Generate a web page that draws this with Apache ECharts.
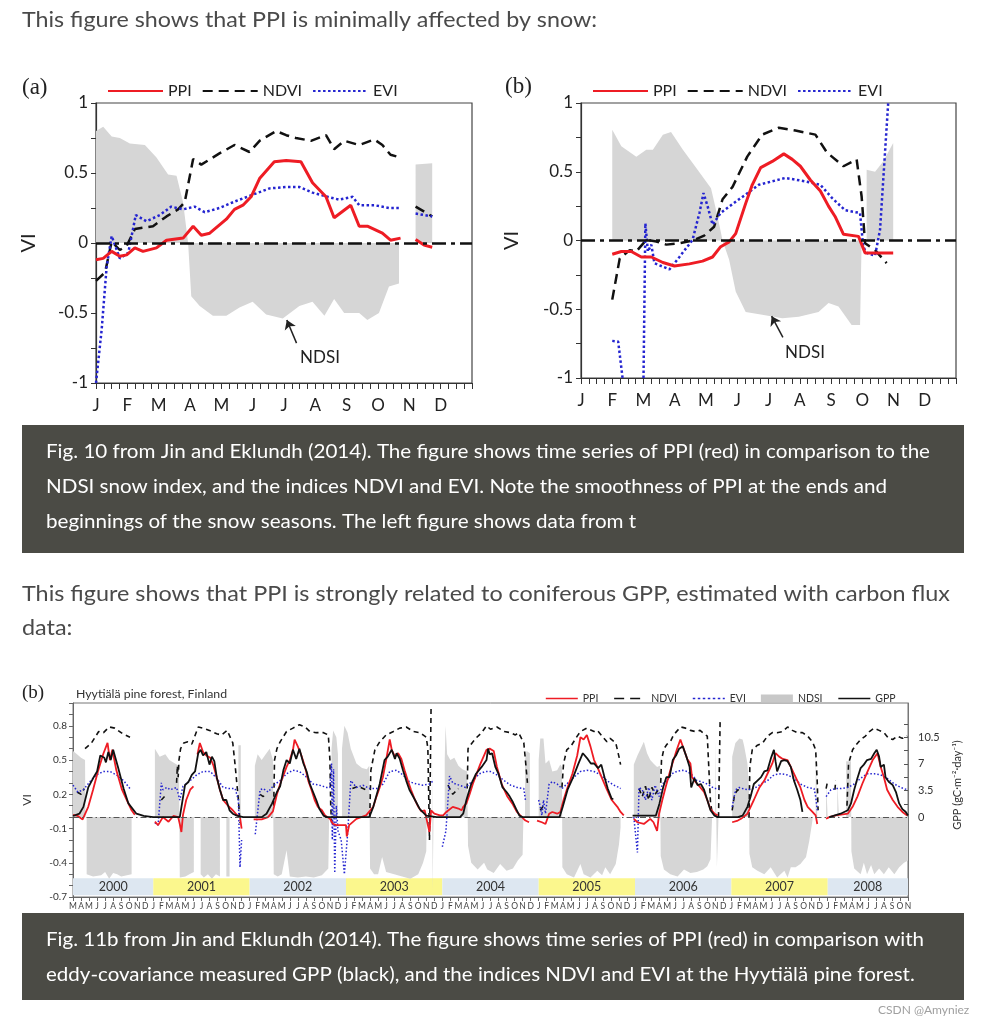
<!DOCTYPE html>
<html><head><meta charset="utf-8">
<script src="https://cdn.jsdelivr.net/npm/echarts@6/dist/echarts.min.js"></script>
<style>html,body{margin:0;padding:0;background:#fff;}#c{width:987px;height:1026px;}</style>
</head><body><div id="c"></div>
<script>
// ---------- texts ----------
const introA = 'This figure shows that PPI is minimally affected by snow:';
const captionA = [
  'Fig. 10 from Jin and Eklundh (2014). The figure shows time series of PPI (red) in comparison to the',
  'NDSI snow index, and the indices NDVI and EVI. Note the smoothness of PPI at the ends and',
  'beginnings of the snow seasons. The left figure shows data from t'];
const introB = ['This figure shows that PPI is strongly related to coniferous GPP, estimated with carbon flux', 'data:'];
const captionB = [
  'Fig. 11b from Jin and Eklundh (2014). The figure shows time series of PPI (red) in comparison with',
  'eddy-covariance measured GPP (black), and the indices NDVI and EVI at the Hyytiälä pine forest.'];
const watermark = 'CSDN @Amyniez';
const monthLetters = ['J','F','M','A','M','J','J','A','S','O','N','D'];

// ---------- panel (a): x = months since 1 Jan ----------
const aPPI = [[0,-0.12],[0.23,-0.11],[0.5,-0.06],[0.76,-0.095],[0.98,-0.085],[1.24,-0.035],[1.5,-0.06],[1.93,-0.035],[2.25,0.02],[2.78,0.035],[3.1,0.12],[3.36,0.055],[3.63,0.07],[4.16,0.17],[4.42,0.24],[4.69,0.27],[4.95,0.33],[5.22,0.46],[5.69,0.58],[6.07,0.59],[6.54,0.58],[6.91,0.43],[7.34,0.33],[7.6,0.18],[8.13,0.27],[8.4,0.12],[8.66,0.12],[9.14,0.07],[9.4,0.02],[9.72,0.035],[9.95,'-'],[10.2,0.025],[10.47,-0.015],[10.73,-0.03]];
const aNDVI = [[0,-0.27],[0.29,-0.21],[0.5,0.01],[0.76,-0.05],[0.98,-0.02],[1.24,0.1],[1.82,0.12],[2.25,0.19],[2.62,0.24],[2.83,0.29],[3.1,0.6],[3.36,0.56],[3.94,0.64],[4.42,0.7],[4.9,0.65],[5.22,0.73],[5.75,0.8],[6.07,0.77],[6.38,0.75],[6.86,0.73],[7.34,0.77],[7.6,0.67],[7.92,0.73],[8.4,0.7],[8.88,0.74],[9.14,0.7],[9.4,0.63],[9.72,0.61],[9.95,'-'],[10.2,0.26],[10.73,0.19]];
const aEVI = [[0,-1],[0.18,-0.62],[0.34,-0.17],[0.5,0.05],[0.76,-0.11],[1.03,-0.07],[1.27,0.2],[1.61,0.155],[2.04,0.2],[2.4,0.26],[2.78,0.24],[3.15,0.26],[3.47,0.22],[3.94,0.25],[4.47,0.3],[5.0,0.345],[5.54,0.39],[6.07,0.4],[6.49,0.4],[6.91,0.36],[7.39,0.33],[7.76,0.31],[8.19,0.33],[8.4,0.27],[8.88,0.27],[9.35,0.25],[9.67,0.25],[9.95,'-'],[10.2,0.21],[10.73,0.19]];
const aNDSI = [[0,0.8],[0.23,0.83],[0.5,0.76],[0.76,0.75],[1.08,0.71],[1.56,0.7],[1.93,0.61],[2.3,0.49],[2.57,0.48],[2.78,0.29],[2.94,0],[3.04,-0.38],[3.31,-0.45],[3.73,-0.52],[4.16,-0.52],[4.58,-0.46],[5.0,-0.42],[5.43,-0.51],[5.96,-0.54],[6.49,-0.45],[6.91,-0.42],[7.29,-0.52],[7.6,-0.4],[7.92,-0.5],[8.4,-0.5],[8.66,-0.55],[9.03,-0.5],[9.35,-0.31],[9.67,-0.29],[9.72,'-'],[10.2,0.56],[10.73,0.57]];
const aArrow = [[6.09,-0.55],[6.4,-0.715]];
const aLabel = [7.15,-0.82];

// ---------- panel (b) ----------
const bPPI = [[1.0,-0.1],[1.29,-0.08],[1.61,-0.08],[1.93,-0.12],[2.25,-0.12],[2.62,-0.16],[2.99,-0.185],[3.47,-0.17],[3.89,-0.15],[4.21,-0.12],[4.47,-0.045],[4.74,-0.01],[4.95,0.05],[5.27,0.27],[5.48,0.405],[5.75,0.53],[6.12,0.575],[6.49,0.63],[6.76,0.59],[7.02,0.54],[7.34,0.44],[7.66,0.36],[7.92,0.25],[8.13,0.175],[8.4,0.045],[8.88,0.03],[9.09,-0.09],[9.35,-0.09],[9.62,-0.09],[9.99,-0.09]];
const bNDVI = [[1.0,-0.43],[1.24,-0.13],[1.56,-0.07],[1.77,-0.08],[2.09,0.005],[2.41,-0.007],[2.73,-0.03],[3.15,-0.02],[3.57,0],[3.94,0.035],[4.26,0.1],[4.53,0.3],[4.85,0.39],[5.32,0.61],[5.8,0.77],[6.33,0.82],[6.86,0.8],[7.5,0.77],[7.87,0.64],[8.4,0.54],[8.82,0.59],[8.98,0.32],[9.09,-0.02],[9.41,-0.07],[9.78,-0.165]];
const bEVI = [[1.0,-0.73],[1.19,-0.735],[1.33,-1.0],[1.6,'-'],[2.0,-1.0],[2.06,0.125],[2.14,-0.08],[2.25,-0.03],[2.35,-0.165],[2.83,-0.21],[3.15,-0.12],[3.57,0.005],[3.79,0.2],[3.92,0.345],[4.05,0.25],[4.21,0.115],[4.47,0.2],[5.06,0.3],[5.69,0.405],[6.54,0.455],[7.18,0.43],[7.66,0.405],[8.03,0.31],[8.45,0.22],[8.93,0.2],[9.03,-0.045],[9.14,-0.09],[9.41,-0.11],[9.57,0.08],[9.72,0.61],[9.83,1.0]];
const bNDSI = [[1.0,0.805],[1.29,0.685],[1.77,0.61],[2.09,0.66],[2.3,0.66],[2.62,0.77],[2.88,0.79],[3.26,0.66],[3.73,0.515],[4.16,0.38],[4.37,0.175],[4.53,0],[4.74,-0.14],[4.95,-0.37],[5.27,-0.52],[5.8,-0.54],[6.44,-0.565],[6.97,-0.555],[7.6,-0.52],[7.92,-0.455],[8.24,-0.48],[8.66,-0.615],[8.93,-0.615],[8.98,0],[9.05,'-'],[9.14,0.515],[9.41,0.5],[9.67,0.575],[9.99,0.71]];
const bArrow = [[6.1,-0.55],[6.46,-0.705]];
const bLabel = [7.17,-0.815];

// ---------- Hyytiälä (x = months since Jan 2000) ----------
const years = [2000,2001,2002,2003,2004,2005,2006,2007,2008];
const hPPI = [[2.0,0.02],[2.6,0.01],[3.2,-0.02],[3.9,0.09],[4.5,0.24],[5.1,0.4],[5.8,0.56],[6.3,0.65],[6.6,0.5],[6.9,0.59],[7.4,0.41],[8.1,0.24],[8.7,0.15],[9.3,0.06],[9.7,0.02],[10,'-'],
[12.2,-0.04],[12.6,-0.07],[13.2,0.0],[13.9,-0.04],[14.5,0.01],[15.1,0.0],[15.3,-0.06],[15.5,-0.13],[15.7,0.02],[16.1,0.15],[16.6,0.24],[17.0,0.27],[17.2,'-'],[17.5,0.55],[17.8,0.65],[18.2,0.57],[18.6,0.54],[19.1,0.52],[19.5,0.45],[19.9,0.35],[20.3,0.24],[20.7,0.15],[21.3,0.1],[21.9,0.06],[22.4,0.02],[22.8,0.0],[23.0,-0.1],[23.5,'-'],
[24.5,-0.02],[25.5,-0.02],[26.3,0.0],[26.9,0.05],[27.4,0.2],[27.8,0.29],[28.6,0.44],[29.0,0.5],[29.4,0.59],[29.6,0.68],[30.0,0.62],[30.45,0.54],[30.9,0.44],[31.3,0.32],[31.7,0.24],[32.1,0.15],[32.5,0.09],[33.0,0.06],[33.4,0.015],[34.0,-0.015],[34.4,-0.06],[34.8,-0.07],[35.5,-0.07],[36.0,-0.07],[36.1,-0.17],[36.4,-0.07],[37.3,-0.015],[38.5,0.015],
[39.4,0.09],[39.8,0.18],[40.2,0.26],[40.6,0.35],[41.0,0.5],[41.45,0.68],[41.7,0.59],[42.1,0.53],[42.5,0.56],[42.9,0.51],[43.3,0.41],[43.7,0.32],[44.1,0.24],[44.6,0.15],[45.0,0.09],[45.4,0.05],[45.8,0.06],[46.2,-0.07],[46.4,-0.13],[46.6,0.06],[47.0,0.03],
[47.7,0.015],[48.1,0.015],[48.5,0.045],[48.7,0.06],[49.3,0.09],[50.0,0.075],[50.4,0.06],[50.6,0.09],[51.0,0.12],[51.4,0.2],[51.8,0.29],[52.7,0.46],[53.5,0.59],[53.9,0.6],[54.4,0.58],[54.8,0.44],[55.4,0.29],[56.1,0.18],[56.7,0.12],[57.3,0.045],[57.9,0.0],[58.35,-0.03],[58.8,-0.045],[59.3,'-'],
[59.8,-0.03],[60.4,-0.045],[60.85,-0.06],[61.3,0.03],[61.7,0.045],[62.3,0.03],[62.7,0.045],[63.1,0.15],[63.5,0.24],[64.2,0.38],[64.8,0.54],[65.2,0.7],[65.6,0.68],[66.0,0.72],[66.45,0.62],[66.9,0.5],[67.3,0.44],[67.9,0.34],[68.5,0.24],[69.1,0.15],[69.8,0.09],[70.2,0.045],[70.6,0.015],[71.2,'-'],
[71.85,-0.015],[72.3,-0.045],[73.1,-0.06],[73.9,-0.015],[74.3,-0.045],[74.75,-0.12],[75.0,0.03],[75.4,0.15],[75.8,0.26],[76.4,0.41],[76.8,0.5],[77.2,0.59],[77.65,0.68],[78.1,0.59],[78.5,0.51],[78.9,0.47],[79.1,0.35],[79.5,0.31],[79.9,0.28],[80.6,0.22],[81.0,0.15],[81.4,0.07],[81.9,0.03],[82.3,0.015],[83.0,'-'],
[84.1,-0.045],[84.8,-0.03],[85.2,-0.015],[86.0,0.03],[86.4,0.09],[86.8,0.15],[87.5,0.26],[88.1,0.32],[88.5,0.38],[89.1,0.47],[89.5,0.56],[89.95,0.53],[90.4,0.51],[91.0,0.5],[91.4,0.44],[92.0,0.35],[92.6,0.26],[93.1,0.15],[93.5,0.09],[94.1,0.045],[94.5,0.015],[94.7,-0.06],[95.2,'-'],
[95.8,-0.015],[96.2,0.0],[97.0,0.015],[98.5,0.03],[99.1,0.09],[99.7,0.18],[100.3,0.29],[100.9,0.39],[101.6,0.5],[102.2,0.56],[102.6,0.44],[103.0,0.35],[103.4,0.24],[104.1,0.15],[104.7,0.09],[105.3,0.045],[105.9,0.015]];
const hGPP = [[2.0,0.15],[2.8,0.45],[3.3,1.35],[3.9,3.9],[4.5,5.1],[5.0,6.0],[5.4,8.1],[5.9,7.8],[6.1,7.2],[6.4,8.55],[6.7,7.5],[7.0,8.85],[7.6,6.6],[8.3,3.75],[8.9,1.8],[9.9,0.45],[10.8,0.15],[12.0,0.0],[15.3,0.0],[15.95,4.2],[16.4,4.65],[16.8,5.55],[17.2,6.0],[17.6,8.4],[17.9,8.85],[18.2,8.1],[18.6,8.55],[19.0,6.9],[19.3,7.95],[19.6,7.35],[19.9,5.25],[20.3,3.6],[20.7,2.25],[21.1,2.25],[21.5,0.9],[21.9,0.45],[22.4,0.2],[23.2,0.0],[25.5,0.0],[26.1,0.45],[26.8,1.8],[27.4,3.3],[27.8,4.05],[28.2,6.15],[28.6,7.5],[29.0,7.05],[29.4,8.85],[29.8,7.65],[30.2,9.0],[30.7,7.05],[31.1,6.0],[31.5,4.35],[31.9,3.3],[32.3,2.25],[32.7,1.05],[33.2,0.2],[33.6,0.0],[38.9,0.0],[39.4,1.35],[40.2,4.35],[40.8,7.5],[41.2,7.95],[41.7,8.85],[42.1,7.65],[42.3,8.4],[42.7,7.65],[43.1,6.15],[43.5,4.8],[43.9,3.6],[44.6,2.25],[45.2,1.05],[46.0,0.2],[47.3,0.0],[50.2,0.0],[50.6,0.45],[51.0,2.25],[51.6,4.35],[52.2,5.7],[52.9,6.6],[53.5,7.5],[53.7,9.0],[53.9,8.25],[54.2,8.4],[54.6,6.6],[55.0,5.7],[55.5,3.9],[56.0,3.3],[56.4,2.7],[56.8,1.95],[57.2,1.05],[57.6,0.2],[58.0,0.0],[62.6,0.0],[63.0,1.35],[63.6,3.6],[64.3,5.25],[64.9,6.9],[65.5,8.4],[66.1,7.65],[66.5,7.05],[66.9,7.05],[67.4,6.45],[67.8,6.9],[68.2,5.25],[68.6,3.75],[69.1,2.4],[69.3,2.4],[70.5,'-'],[71.7,0.2],[74.6,0.2],[75.05,1.8],[75.5,3.9],[75.9,5.25],[76.3,5.25],[76.7,7.5],[77.1,8.1],[77.5,9.0],[77.95,9.3],[78.4,7.95],[78.8,6.6],[79.0,3.9],[79.4,5.1],[79.8,4.2],[80.2,4.35],[80.6,3.6],[81.0,2.25],[81.4,0.9],[81.9,0.2],[82.3,0.0],[84.8,0.0],[85.4,0.2],[86.0,1.35],[86.4,2.7],[86.8,4.35],[87.25,4.8],[87.7,5.25],[88.1,6.0],[88.5,6.15],[88.9,7.65],[89.3,8.85],[89.5,7.35],[89.7,6.0],[90.2,7.35],[90.6,7.5],[91.0,7.35],[91.4,6.6],[91.8,4.8],[92.2,3.6],[92.6,2.25],[92.85,0.7],[94,'-'],[96.2,0.0],[96.8,0.2],[97.6,0.45],[98.5,0.9],[98.9,1.8],[99.3,3.6],[99.7,5.1],[100.1,6.45],[100.5,6.9],[100.9,7.5],[101.4,7.65],[101.8,8.4],[102.1,8.85],[102.4,7.95],[102.6,6.6],[103.0,6.9],[103.2,5.25],[103.6,4.65],[104.1,4.2],[104.5,3.3],[104.9,1.8],[105.3,1.05],[105.7,0.7],[106.0,0.2]];
const hNDVI = [[2.5,0.22],[3.0,0.2],[3.4,0.25],[3.45,'-'],[3.5,0.6],[4.3,0.65],[5.2,0.75],[5.8,0.74],[6.5,0.79],[7.2,0.78],[8.2,0.73],[9.1,0.7],[9.5,'-'],
[13.0,0.15],[13.4,0.18],[13.8,'-'],[14.9,0.3],[15.0,0.45],[15.1,0.35],[15.2,0.5],[15.4,0.6],[15.8,0.65],[16.3,0.66],[16.8,0.64],[17.6,0.79],[18.2,0.78],[19.0,0.76],[19.9,0.73],[20.5,0.72],[21.2,0.76],[21.9,0.65],[22.2,0.45],[22.6,0.15],[22.8,-0.05],[23.2,'-'],
[25.3,0.2],[25.7,0.18],[26.0,0.22],[26.5,'-'],[27.0,0.1],[27.1,0.5],[27.4,0.6],[27.8,0.66],[28.6,0.75],[29.4,0.78],[30.2,0.81],[30.9,0.79],[31.5,0.75],[32.3,0.74],[33.2,0.74],[33.8,0.72],[34.0,0.5],[34.1,0.1],[34.2,-0.05],[34.5,'-'],
[36.8,0.25],[37.5,0.27],[38.5,0.24],[38.7,'-'],[38.96,0.0],[39.1,0.41],[39.6,0.59],[40.2,0.66],[41.0,0.72],[41.9,0.75],[42.7,0.78],[43.5,0.79],[44.4,0.75],[45.2,0.74],[45.6,0.72],[46.0,0.7],[46.2,0.6],[46.4,-0.2],[46.6,0.98],[46.7,'-'],
[48.7,0.28],[49.3,0.2],[50.0,0.25],[50.5,'-'],[51.1,0.25],[51.2,0.6],[51.7,0.65],[52.3,0.7],[52.9,0.74],[53.5,0.8],[54.0,0.77],[54.8,0.79],[55.7,0.75],[56.5,0.74],[57.1,0.72],[57.5,0.74],[58.15,0.65],[58.35,0.5],[58.6,0.3],[58.9,'-'],
[60.2,0.06],[60.6,0.1],[61,'-'],[62.9,0.26],[63.1,0.47],[63.5,0.59],[64.0,0.62],[64.8,0.71],[65.2,0.75],[66.0,0.78],[66.9,0.75],[67.3,0.76],[67.9,0.71],[68.5,0.66],[68.9,0.69],[69.6,0.65],[70.0,0.53],[70.2,0.46],[70.5,'-'],
[72.5,0.25],[72.9,0.18],[73.3,0.27],[73.7,0.15],[74.1,0.26],[74.5,0.2],[74.9,0.24],[75.0,'-'],[75.2,0.3],[75.3,0.5],[75.6,0.6],[76.0,0.64],[76.4,0.66],[76.8,0.72],[77.3,0.76],[77.7,0.79],[78.3,0.78],[78.9,0.76],[79.5,0.75],[80.1,0.76],[80.6,0.73],[81.0,0.71],[81.2,0.42],[81.4,0.13],[81.6,0.04],[82.0,'-'],[82.4,0.0],[82.6,0.84],[82.8,'-'],
[84.1,0.06],[84.4,0.2],[84.8,0.24],[85.2,0.22],[85.6,'-'],[86.2,0.0],[86.3,0.44],[86.6,0.59],[87.25,0.63],[87.9,0.65],[88.5,0.71],[89.1,0.74],[89.7,0.74],[90.4,0.75],[91.0,0.79],[91.6,0.76],[92.2,0.74],[92.85,0.74],[93.5,0.71],[94.1,0.66],[94.5,0.59],[94.7,0.3],[94.8,0.06],[95.0,'-'],
[95.8,0.25],[96.0,0.32],[96.4,'-'],[96.9,0.24],[97.0,0.32],[97.5,'-'],[98.4,0.1],[98.6,0.47],[99.1,0.59],[99.5,0.63],[100.1,0.68],[100.7,0.71],[101.2,0.75],[101.8,0.78],[102.4,0.76],[103.0,0.74],[103.6,0.69],[104.1,0.68],[104.7,0.71],[105.3,0.69],[105.9,0.71]];
const hEVI = [[2.0,0.28],[2.6,0.22],[3.3,0.24],[4.1,0.31],[4.9,0.37],[5.8,0.4],[6.6,0.4],[7.4,0.37],[8.3,0.32],[9.1,0.25],[9.5,'-'],
[12.2,-0.05],[12.6,-0.07],[13.0,0.3],[13.2,0.24],[13.7,0.26],[14.1,0.24],[14.5,0.25],[14.9,0.26],[15.3,0.15],[15.7,0.27],[16.6,0.32],[17.4,0.37],[18.2,0.4],[19.1,0.4],[19.9,0.34],[20.7,0.26],[21.5,0.25],[22.2,0.25],[22.6,0.15],[22.8,-0.44],[23.0,-0.2],[23.4,'-'],
[24.7,-0.15],[25.3,0.24],[25.7,0.25],[26.3,0.22],[26.9,0.27],[27.4,0.3],[27.8,0.32],[28.6,0.38],[29.4,0.41],[30.2,0.4],[31.1,0.35],[31.9,0.29],[32.7,0.28],[33.6,0.26],[34.0,0.26],[34.2,0.47],[34.3,-0.2],[34.45,0.42],[34.6,-0.49],[34.8,0.1],[35.0,-0.12],[35.4,-0.2],[35.8,-0.5],[36.2,-0.15],[36.6,0.32],[37.3,0.26],[38.1,0.28],[38.96,0.25],[39.8,0.25],[40.6,0.29],[41.45,0.4],[42.3,0.41],[43.1,0.37],[43.9,0.31],[44.8,0.29],[45.6,0.28],[46.4,0.29],[46.9,0.32],[47.3,'-'],
[48.0,-0.26],[48.45,-0.12],[48.9,0.36],[49.3,0.3],[50.1,0.28],[50.9,0.26],[51.8,0.32],[52.6,0.38],[53.4,0.4],[54.0,0.4],[54.8,0.37],[55.7,0.32],[56.5,0.28],[57.3,0.26],[58.15,0.25],[58.35,0.15],[58.7,'-'],
[60.0,0.15],[60.2,0.09],[60.4,0.015],[60.6,0.15],[60.85,0.03],[61.3,0.29],[61.7,0.31],[62.3,0.29],[62.9,0.25],[63.5,0.29],[64.4,0.35],[65.2,0.4],[66.0,0.41],[66.9,0.4],[67.7,0.37],[68.5,0.32],[69.35,0.28],[70.0,0.26],[70.2,0.25],[70.6,'-'],
[71.85,0.0],[72.3,-0.31],[72.5,0.26],[72.9,0.24],[73.3,0.15],[73.7,0.26],[74.1,0.15],[74.5,0.28],[75.0,0.18],[75.4,0.29],[76.0,0.32],[76.6,0.38],[77.2,0.4],[77.9,0.41],[78.5,0.4],[79.1,0.37],[79.7,0.32],[80.3,0.31],[81.0,0.29],[81.9,0.25],[82.5,0.25],[83.0,'-'],
[84.1,0.09],[84.35,0.18],[84.55,0.24],[85.0,0.26],[85.4,0.25],[86.0,0.24],[86.8,0.25],[87.7,0.29],[88.5,0.32],[89.3,0.37],[90.2,0.38],[91.0,0.37],[91.8,0.34],[92.6,0.29],[93.5,0.26],[94.3,0.25],[94.5,0.18],[94.7,0.06],[95.2,'-'],
[95.8,0.18],[96.4,0.24],[97.0,0.25],[97.6,0.25],[98.5,0.26],[99.3,0.29],[100.1,0.34],[100.9,0.38],[101.8,0.38],[102.6,0.37],[103.4,0.34],[104.3,0.29],[105.1,0.26],[105.9,0.24]];
const hNDSI = [[2.0,0.58],[2.5,0.55],[3.0,0.52],[3.5,0.5],[3.55,0],[3.6,'-'],[3.7,-0.5],[4.5,-0.52],[5.5,-0.51],[6.0,-0.48],[6.5,-0.54],[7.0,-0.49],[7.5,-0.5],[8.0,-0.52],[9.3,-0.5],[9.4,'-'],
[12.2,0.6],[12.8,0.53],[13.5,0.55],[14.0,0.5],[14.7,0.47],[15.2,0.45],[15.3,-0.53],[16.0,-0.52],[16.5,-0.5],[17.05,-0.48],[17.2,'-'],[17.9,-0.5],[18.3,-0.53],[18.8,-0.5],[19.3,-0.54],[19.8,-0.5],[20.3,-0.52],[20.5,'-'],[21.1,-0.52],[21.5,-0.52],[21.8,'-'],[22.6,0.63],[22.9,0.63],[23.0,'-'],
[24.65,0.45],[25.0,0.55],[25.5,0.5],[26.0,0.55],[26.5,0.6],[26.9,0.5],[27.0,-0.5],[27.5,-0.52],[28.0,-0.5],[28.6,-0.29],[29.0,-0.52],[30.0,-0.53],[31.0,-0.52],[32.0,-0.53],[33.0,-0.51],[33.8,-0.45],[33.9,0],[34.0,'-'],[34.2,0.6],[34.4,0.76],[34.8,0.7],[35.0,0.55],[35.2,'-'],
[35.5,0.6],[35.8,0.8],[36.2,0.74],[36.6,0.6],[37.3,0.47],[38.0,0.43],[38.6,0.42],[38.9,0.45],[39.0,-0.45],[39.5,-0.5],[40.0,-0.5],[40.5,-0.35],[41.0,-0.48],[42.0,-0.5],[43.0,-0.52],[44.0,-0.54],[45.0,-0.5],[45.6,-0.4],[46.0,-0.3],[46.05,0],[46.2,'-'],[46.7,0.78],[46.8,0.78],[46.8,-0.65],[46.9,-0.65],[47.0,'-'],
[48.3,0.5],[48.4,0.8],[48.6,0.55],[49.0,0.5],[49.5,0.52],[50.0,0.45],[50.5,0.42],[51.1,0.4],[51.2,-0.25],[51.6,-0.4],[52.4,-0.46],[53.2,-0.4],[53.6,-0.46],[54.4,-0.49],[55.2,-0.41],[56.0,-0.47],[56.8,-0.45],[57.4,-0.38],[58.0,-0.33],[58.1,0],[58.2,'-'],[58.3,0.5],[58.5,0.58],[58.9,0.56],[59.2,'-'],
[60.0,0.5],[60.2,0.69],[60.6,0.69],[60.85,0.47],[61.3,0.5],[61.7,0.4],[62.3,0.41],[62.7,0.46],[62.9,0.44],[62.95,-0.44],[63.5,-0.5],[64.4,-0.53],[65.2,-0.41],[65.6,-0.5],[66.45,-0.53],[67.3,-0.47],[67.9,-0.51],[68.3,-0.44],[68.9,-0.5],[69.6,-0.41],[70.0,-0.24],[70.2,-0.09],[70.4,'-'],
[71.85,0.46],[72.3,0.54],[72.7,0.6],[73.1,0.66],[73.5,0.56],[73.9,0.5],[74.3,0.47],[74.75,0.44],[75.1,0.45],[75.2,-0.34],[75.6,-0.46],[76.4,-0.5],[77.3,-0.52],[78.1,-0.46],[78.9,-0.49],[79.7,-0.48],[80.5,-0.46],[81.0,-0.43],[81.4,-0.37],[81.6,0],[81.8,'-'],[82.0,0.68],[82.2,0.68],[82.2,-0.44],[82.4,-0.44],[82.6,'-'],
[84.1,0.53],[84.5,0.65],[85.0,0.69],[85.4,0.68],[85.6,0.62],[86.0,0.47],[86.2,0.24],[86.25,-0.32],[86.6,-0.44],[87.25,-0.47],[88.1,-0.5],[88.9,-0.44],[89.7,-0.53],[90.6,-0.47],[91.0,-0.53],[91.4,-0.44],[92.0,-0.44],[92.6,-0.41],[93.3,-0.35],[93.7,-0.21],[94.1,-0.03],[94.3,'-'],[94.5,0.59],[94.7,0.59],[94.9,'-'],
[95.8,0.3],[96.0,0.3],[96.2,'-'],[97.2,0.3],[97.4,0.3],[97.6,'-'],[98.3,0.49],[98.9,0.49],[98.95,-0.3],[99.3,-0.45],[100.1,-0.5],[100.5,-0.4],[100.9,-0.5],[101.4,-0.42],[101.8,-0.5],[102.4,-0.45],[103.0,-0.5],[103.6,-0.44],[104.3,-0.5],[104.9,-0.44],[105.5,-0.4],[106,-0.38]];
const gppLabels = [0, 3.5, 7, 10.5];
const gppTicks = [0, 1.75, 3.5, 5.25, 7, 8.75, 10.5, 12.25];

// ---------- styling ----------
const FONT = 'Lato';
const RED = '#ee1c24', BLUE = '#2424d0', BLACK = '#111', GRAY = '#d6d6d6';

function measure(text, size) {
  const ctx = document.createElement('canvas').getContext('2d');
  ctx.font = size + 'px ' + FONT;
  return ctx.measureText(text).width;
}
// font size chosen by glyph height; horizontal scale fitted to the reference line width
const INTRO_SIZE = 20.5, CAP_SIZE = 19.5;
const kIntroA = 575 / measure(introA, INTRO_SIZE);
const kIntroB = 928 / measure(introB[0], INTRO_SIZE);
const kCapA = 884 / measure(captionA[0], CAP_SIZE);
const kCapB = 878 / measure(captionB[0], CAP_SIZE);

const near = (v, s) => Math.abs(v / s - Math.round(v / s)) < 1e-6;
const fmtPanelX = v => { const r = Math.round(v); return (near(v, 1) && r < 12) ? monthLetters[r] : ''; };
const fmtPanelY = v => near(v, 0.5) ? String(Math.round(v * 10) / 10) : '';

function panelAxes(grid, nameGap) {
  return {
    x: {gridIndex: grid, type: 'value', min: 0, max: 12, interval: 0.25,
      axisLine: {onZero: false, lineStyle: {color: '#333', width: 1.2}},
      axisTick: {length: 6, lineStyle: {color: '#333'}},
      axisLabel: {formatter: fmtPanelX, fontSize: 17, color: '#222', margin: 14, fontFamily: FONT},
      splitLine: {show: false}},
    y: {gridIndex: grid, type: 'value', min: -1, max: 1, interval: 0.25,
      axisLine: {show: true, onZero: false, lineStyle: {color: '#333', width: 1.2}},
      axisTick: {show: true, length: 5, lineStyle: {color: '#333'}},
      axisLabel: {formatter: fmtPanelY, fontSize: 17, color: '#222', margin: 8, fontFamily: FONT},
      splitLine: {show: false},
      name: 'VI', nameLocation: 'middle', nameGap: nameGap, nameRotate: 90,
      nameTextStyle: {fontSize: 20, color: '#222', fontFamily: FONT}}
  };
}
const pa = panelAxes(0, 57), pb = panelAxes(1, 59);

function panelSeries(ax, ppi, ndvi, evi, ndsi, arrow, lab) {
  return [
    {type: 'line', name: 'NDSI', xAxisIndex: ax, yAxisIndex: ax, data: ndsi, symbol: 'none', color: '#cfcfcf',
     lineStyle: {width: 0}, areaStyle: {color: GRAY, opacity: 1}, z: 1, silent: true,
     markLine: {silent: true, symbol: ['arrow', 'none'], symbolSize: 9, label: {show: false},
       lineStyle: {color: '#222', width: 1.5, type: 'solid'},
       data: [[{coord: arrow[0]}, {coord: arrow[1]}]]},
     markPoint: {silent: true, data: [{coord: lab, symbol: 'circle', symbolSize: 0,
       label: {show: true, position: 'inside', formatter: 'NDSI', fontSize: 17, color: '#222', fontFamily: FONT}}]}},
    {type: 'line', name: 'NDVI', xAxisIndex: ax, yAxisIndex: ax, data: ndvi, symbol: 'none', color: BLACK,
     lineStyle: {width: 2.5, type: [10, 6], color: BLACK}, z: 3, silent: true},
    {type: 'line', name: 'EVI', xAxisIndex: ax, yAxisIndex: ax, data: evi, symbol: 'none', color: BLUE,
     lineStyle: {width: 2.5, type: [2.5, 2.5], color: BLUE}, z: 3, silent: true},
    {type: 'line', name: 'PPI', xAxisIndex: ax, yAxisIndex: ax, data: ppi, symbol: 'none', color: RED,
     lineStyle: {width: 3, color: RED}, z: 4, silent: true,
     markLine: {silent: true, symbol: 'none', label: {show: false},
       lineStyle: {color: BLACK, width: 2.5, type: [14, 5, 4, 5]}, data: [{yAxis: 0}]}}
  ];
}

const bandColors = ['#dde7f1', '#fbf78d'];
const bands = years.map((y, i) => [
  {name: String(y), xAxis: Math.max(2, (y - 2000) * 12), yAxis: -0.685, itemStyle: {color: bandColors[i % 2]}},
  {xAxis: Math.min(106, (y - 2000 + 1) * 12), yAxis: -0.535}
]);

const chart = echarts.init(document.getElementById('c'), null, {renderer: 'canvas'});
const pageText = (t, x, y, size, color, k) => ({type: 'text', x: x, y: y, scaleX: k || 1, silent: true,
  style: {text: t, fontSize: size, fontFamily: FONT, fill: color, verticalAlign: 'middle', align: 'left'}});

chart.setOption({
  backgroundColor: '#fff',
  animation: false,
  graphic: [
    pageText(introA, 22, 20, INTRO_SIZE, '#4a4a4a', kIntroA),
    {type: 'rect', shape: {x: 22, y: 425, width: 942, height: 128}, style: {fill: '#4b4b45'}, silent: true},
    pageText(captionA[0], 46, 452, CAP_SIZE, '#ffffff', kCapA),
    pageText(captionA[1], 46, 487, CAP_SIZE, '#ffffff', kCapA),
    pageText(captionA[2], 46, 522, CAP_SIZE, '#ffffff', kCapA),
    pageText(introB[0], 22, 594, INTRO_SIZE, '#4a4a4a', kIntroB),
    pageText(introB[1], 22, 628, INTRO_SIZE, '#4a4a4a', kIntroB),
    {type: 'rect', shape: {x: 22, y: 913, width: 942, height: 87}, style: {fill: '#4b4b45'}, silent: true},
    pageText(captionB[0], 46, 940, CAP_SIZE, '#ffffff', kCapB),
    pageText(captionB[1], 46, 975, CAP_SIZE, '#ffffff', kCapB),
    pageText(watermark, 878, 1010, 12, '#a0a0a0'),
    {type: 'text', x: 22, y: 88, silent: true, style: {text: '(a)', fontSize: 23, fontFamily: 'Liberation Serif', fill: '#222', verticalAlign: 'middle'}},
    {type: 'text', x: 505, y: 87, silent: true, style: {text: '(b)', fontSize: 23, fontFamily: 'Liberation Serif', fill: '#222', verticalAlign: 'middle'}},
    {type: 'text', x: 22, y: 693, silent: true, style: {text: '(b)', fontSize: 19, fontFamily: 'Liberation Serif', fill: '#222', verticalAlign: 'middle'}},
    {type: 'text', x: 76, y: 694, silent: true, style: {text: 'Hyytiälä pine forest, Finland', fontSize: 12.3, fontFamily: FONT, fill: '#333', verticalAlign: 'middle'}}
  ],
  legend: [
    {left: 102, top: 78, itemWidth: 55, itemHeight: 14, itemGap: 10, selectedMode: false,
     itemStyle: {opacity: 0},
     data: ['PPI', 'NDVI', 'EVI'], textStyle: {fontSize: 16, color: '#222', fontFamily: FONT}},
    {left: 587, top: 78, itemWidth: 55, itemHeight: 14, itemGap: 10, selectedMode: false,
     itemStyle: {opacity: 0},
     data: ['PPI', 'NDVI', 'EVI'], textStyle: {fontSize: 16, color: '#222', fontFamily: FONT}},
    {left: 540, top: 688, itemWidth: 32, itemHeight: 8, itemGap: 15, selectedMode: false,
     itemStyle: {opacity: 0}, lineStyle: {width: 1.6},
     data: ['PPI', 'NDVI', 'EVI', {name: 'NDSI', icon: 'rect', itemStyle: {opacity: 1, color: '#c8c8c8'}}, 'GPP'],
     textStyle: {fontSize: 10.5, color: '#333', fontFamily: FONT}}
  ],
  grid: [
    {left: 96, top: 103, width: 376, height: 280, show: true, borderColor: '#444', borderWidth: 1.2, backgroundColor: 'transparent'},
    {left: 581, top: 103, width: 375, height: 275, show: true, borderColor: '#444', borderWidth: 1.2, backgroundColor: 'transparent'},
    {left: 73, top: 703, width: 835, height: 194, show: true, borderColor: '#777', borderWidth: 1, backgroundColor: 'transparent'}
  ],
  xAxis: [pa.x, pb.x,
    {gridIndex: 2, type: 'value', min: 2, max: 106, interval: 1,
     axisLine: {onZero: false, lineStyle: {color: '#666'}},
     axisTick: {length: 4, lineStyle: {color: '#666'}},
     axisLabel: {formatter: v => monthLetters[((Math.round(v) % 12) + 12) % 12], fontSize: 8.5, color: '#444', margin: 5, fontFamily: FONT},
     splitLine: {show: false}}],
  yAxis: [pa.y, pb.y,
    {gridIndex: 2, type: 'value', min: -0.7, max: 1.0, interval: 0.1,
     axisLine: {show: true, onZero: false, lineStyle: {color: '#666'}},
     axisTick: {show: true, length: 4, lineStyle: {color: '#666'}},
     axisLabel: {formatter: v => { const k = Math.round((v + 0.7) * 10); return (k % 3 === 0 && k <= 15) ? (Math.round(v * 10) / 10).toFixed(1) : ''; },
       fontSize: 10, color: '#333', margin: 6, fontFamily: FONT},
     splitLine: {show: false},
     name: 'VI', nameLocation: 'middle', nameGap: 40, nameRotate: 90,
     nameTextStyle: {fontSize: 12, color: '#333', fontFamily: FONT}},
    {gridIndex: 2, type: 'value', position: 'right', min: -10.5, max: 15, interval: 3.5,
     axisLine: {show: true, onZero: false, lineStyle: {color: '#777'}},
     axisTick: {show: true, length: 4, inside: true, customValues: gppTicks, lineStyle: {color: '#555'}},
     axisLabel: {customValues: gppLabels, formatter: v => gppLabels.includes(v) ? String(v) : '',
       fontSize: 11, color: '#333', margin: 10, fontFamily: FONT},
     splitLine: {show: false},
     name: 'GPP (gC·m⁻²·day⁻¹)', nameLocation: 'middle', nameGap: 44, nameRotate: 90,
     nameTextStyle: {fontSize: 11, color: '#333', fontFamily: FONT, padding: [0, 0, 0, 30]}}
  ],
  series: [
    ...panelSeries(0, aPPI, aNDVI, aEVI, aNDSI, aArrow, aLabel),
    ...panelSeries(1, bPPI, bNDVI, bEVI, bNDSI, bArrow, bLabel),
    {type: 'line', name: 'NDSI', xAxisIndex: 2, yAxisIndex: 2, data: hNDSI, symbol: 'none', color: '#cfcfcf',
     lineStyle: {width: 0}, areaStyle: {color: GRAY, opacity: 1}, z: 1, silent: true},
    {type: 'line', name: 'NDVI', xAxisIndex: 2, yAxisIndex: 2, data: hNDVI, symbol: 'none', color: BLACK,
     lineStyle: {width: 1.6, type: [5, 4], color: BLACK}, z: 3, silent: true},
    {type: 'line', name: 'EVI', xAxisIndex: 2, yAxisIndex: 2, data: hEVI, symbol: 'none', color: BLUE,
     lineStyle: {width: 1.5, type: [1.5, 2], color: BLUE}, z: 3, silent: true},
    {type: 'line', name: 'PPI', xAxisIndex: 2, yAxisIndex: 2, data: hPPI, symbol: 'none', color: RED,
     lineStyle: {width: 1.8, color: RED}, z: 4, silent: true,
     markLine: {silent: true, symbol: 'none', label: {show: false},
       lineStyle: {color: '#555', width: 1, type: [6, 3, 1.5, 3]}, data: [{yAxis: 0}]},
     markArea: {silent: true, label: {show: true, position: 'inside', fontSize: 12.5, color: '#333', fontFamily: FONT},
       data: bands}},
    {type: 'line', name: 'GPP', xAxisIndex: 2, yAxisIndex: 3, data: hGPP, symbol: 'none', color: BLACK,
     lineStyle: {width: 1.8, color: BLACK}, z: 5, silent: true}
  ]
});
</script></body></html>
